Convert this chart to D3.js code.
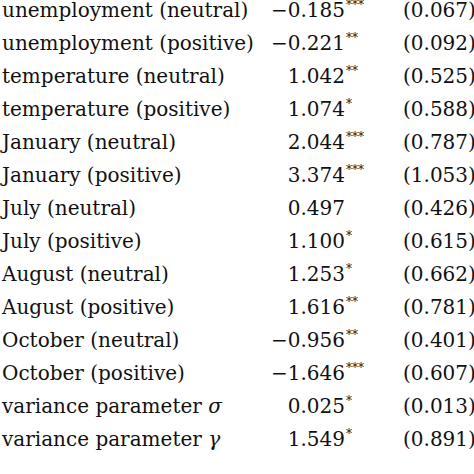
<!DOCTYPE html><html><head><meta charset="utf-8"><script src="https://cdn.jsdelivr.net/npm/d3@7"></script>
<style>body{margin:0;background:#fff}text{font-family:"DejaVu Serif","Liberation Serif",serif;font-size:20px;fill:#111}</style></head><body><script>
const labels=["unemployment (neutral)","unemployment (positive)","temperature (neutral)","temperature (positive)","January (neutral)","January (positive)","July (neutral)","July (positive)","August (neutral)","August (positive)","October (neutral)","October (positive)","variance parameter σ","variance parameter γ"];
const coefs=["−0.185","−0.221","1.042","1.074","2.044","3.374","0.497","1.100","1.253","1.616","−0.956","−1.646","0.025","1.549"];
const stars=["***","**","**","*","***","***","","*","*","**","**","***","*","*"];
const ses=["0.067","0.092","0.525","0.588","0.787","1.053","0.426","0.615","0.662","0.781","0.401","0.607","0.013","0.891"];
const svg=d3.select("body").append("svg").attr("width",474).attr("height",474);
const y=d3.scaleLinear().domain([0,1]).range([17,50]);
const g=svg.selectAll("g").data(labels).join("g").attr("transform",(d,i)=>`translate(0,${y(i)})`);
g.append("text").attr("x",2).each(function(d){
  const t=d3.select(this);const m=d.match(/^(.*?)([σγ])$/);
  if(m){t.append("tspan").text(m[1]);t.append("tspan").style("font-style","italic").text(m[2]);}else t.text(d);
});
g.append("text").attr("x",345).attr("text-anchor","end").text((d,i)=>coefs[i]);
g.append("text").attr("x",346).attr("y",-8).style("font-size","12px").text((d,i)=>stars[i]);
g.append("text").attr("x",403).text((d,i)=>"("+ses[i]+")");
</script></body></html>
